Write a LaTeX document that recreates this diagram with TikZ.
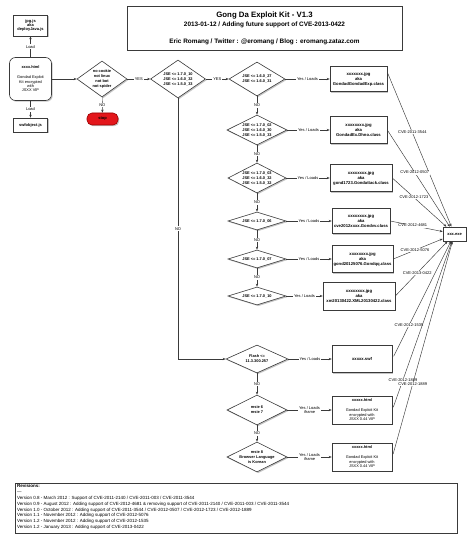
\documentclass[tikz,border=0pt]{standalone}
\usepackage{fontspec}
\setmainfont{Liberation Sans}
\usetikzlibrary{shapes.geometric,arrows.meta,shadows}
\definecolor{edge}{HTML}{3A3A3A}
\definecolor{stopred}{HTML}{E3161B}
\newcommand\fsz[2]{\fontsize{#1}{#2}\selectfont}
\tikzset{
  shd/.style={drop shadow={shadow xshift=1.2pt,shadow yshift=-1.2pt,opacity=0.45}},
  box/.style={rectangle,draw=edge,line width=0.6pt,fill=white,inner sep=1pt,align=center,font=\bfseries\fsz{4.2}{5},shd},
  dia/.style={diamond,draw=edge,line width=0.6pt,fill=white,inner sep=0pt,shd},
  dtext/.style={align=center,font=\bfseries\fsz{3.9}{5},inner sep=0pt},
  arr/.style={draw=edge,line width=0.45pt,-{Stealth[length=3pt,width=2.4pt]}},
  lbl/.style={fill=white,inner sep=0.8pt,font=\fsz{4}{4.8}},
  cve/.style={fill=white,inner sep=0.6pt,font=\fsz{4}{4.8}},
}
\begin{document}
\begin{tikzpicture}[x=1pt,y=-1pt]
\fill[white] (0,0) rectangle (474,545);
\useasboundingbox (0,0) rectangle (474,545);

% title
\node[rectangle,draw=edge,line width=0.7pt,fill=white,shd,minimum width=275pt,minimum height=44pt] (title) at (264.5,28) {};
\node[font=\bfseries\fsz{7.8}{9}] (t1) at (264.5,16) {Gong Da Exploit Kit - V1.3};
\node[font=\bfseries\fsz{6.4}{7.5}] (t2) at (264.5,24.5) {2013-01-12 / Adding future support of CVE-2013-0422};
\node[font=\bfseries\fsz{6.4}{7.5}] (t3) at (264.5,42) {Eric Romang / Twitter : @eromang / Blog : eromang.zataz.com};

% left column
\node[box,font=\bfseries\fsz{4}{4.3},minimum width=34pt,minimum height=21pt] (js) at (30.5,25.5) {jpg.js\\aka\\deployJava.js};
\node[box,rounded corners=6pt,minimum width=42pt,minimum height=43pt,font=\fsz{3.9}{4.4}] (html) at (30.5,79) {\textbf{xxxx.html}\\[1.2pt]\\Gondad Exploit\\Kit encrypted\\with\\JSXX VIP};
\node[box,font=\bfseries\fsz{4}{4.3},minimum width=34pt,minimum height=14pt] (swf) at (30.5,125) {swfobject.js};
\draw[arr] (html) -- node[lbl]{Load} (js);
\draw[arr] (html) -- node[lbl]{Load} (swf);

% first checks
\node[dia,minimum width=50pt,minimum height=36pt,label={[dtext]center:no cookie\\not linux\\not bot\\not spider}] (d1) at (102,79) {};
\node[rectangle,rounded corners=5pt,draw=red!60!black,line width=0.6pt,fill=stopred,shd,minimum width=31pt,minimum height=12pt,inner sep=0pt,font=\bfseries\fsz{4}{4.8}] (stop) at (102.5,119) {stop};
\draw[arr] (html) -- (d1);
\draw[arr] (d1) -- node[lbl]{NO} (stop);

\node[dia,minimum width=55pt,minimum height=38pt,label={[dtext]center:JSE <= 1.7.0\_10\\JSE <= 1.6.0\_32\\JSE <= 1.5.0\_33}] (d2) at (178,79) {};
\draw[arr] (d1) -- node[lbl]{YES} (d2);

% java column
\node[dia,minimum width=56pt,minimum height=34pt,label={[dtext]center:JSE <= 1.6.0\_27\\JSE <= 1.6.0\_31}] (d3) at (257,79) {};
\node[dia,minimum width=60pt,minimum height=30pt,label={[dtext]center:JSE <= 1.7.0\_02\\JSE <= 1.6.0\_30\\JSE <= 1.5.0\_33}] (d4) at (257,130) {};
\node[dia,minimum width=58pt,minimum height=30pt,label={[dtext]center:JSE <= 1.7.0\_03\\JSE <= 1.6.0\_32\\JSE <= 1.5.0\_32}] (d5) at (257,178) {};
\node[dia,minimum width=58pt,minimum height=18pt,label={[dtext]center:JSE <= 1.7.0\_06}] (d6) at (257,221) {};
\node[dia,minimum width=58pt,minimum height=18pt,label={[dtext]center:JSE <= 1.7.0\_07}] (d7) at (257,259) {};
\node[dia,minimum width=58pt,minimum height=18pt,label={[dtext]center:JSE <= 1.7.0\_10}] (d8) at (257,296) {};
\node[dia,minimum width=62pt,minimum height=28pt,label={[dtext]center:Flash <=\\11.3.300.257}] (d9) at (257,359) {};
\node[dia,minimum width=60pt,minimum height=30pt,label={[dtext]center:msie 6\\msie 7}] (d10) at (257,410) {};
\node[dia,minimum width=60pt,minimum height=30pt,label={[dtext]center:msie 8\\Browser Language\\is Korean}] (d11) at (257,457) {};

\draw[arr] (d2) -- node[lbl]{YES} (d3);
\draw[arr] (d3) -- node[lbl]{NO} (d4);
\draw[arr] (d4) -- node[lbl]{NO} (d5);
\draw[arr] (d5) -- node[lbl]{NO} (d6);
\draw[arr] (d6) -- node[lbl]{NO} (d7);
\draw[arr] (d7) -- node[lbl]{NO} (d8);
\draw[arr] (d9) -- node[lbl]{NO} (d10);
\draw[arr] (d10) -- node[lbl]{NO} (d11);
\draw[arr] (d2.south) |- node[lbl,pos=0.25]{NO} (d9.west);

% payload boxes
\node[box,minimum width=57pt,minimum height=25pt] (b1) at (358.5,79) {xxxxxxx.jpg\\aka\\GondadGondadExp.class};
\node[box,minimum width=57pt,minimum height=27pt] (b2) at (358.5,130) {xxxxxxxx.jpg\\aka\\GondadEx.Dhno.class};
\node[box,minimum width=62pt,minimum height=27pt] (b3) at (361,178) {xxxxxxxx.jpg\\aka\\gond1723.Gondattack.class};
\node[box,minimum width=58pt,minimum height=25pt] (b4) at (361,221) {xxxxxxxx.jpg\\aka\\cve2012xxxx.Gondvv.class};
\node[box,minimum width=61pt,minimum height=27pt] (b5) at (362.5,259) {xxxxxxxx.jpg\\aka\\gond20125076.Gondqq.class};
\node[box,minimum width=72pt,minimum height=28pt] (b6) at (359,296) {xxxxxxxx.jpg\\aka\\xm20130422.XML20130422.class};
\node[box,minimum width=60pt,minimum height=27pt] (b7) at (362,359) {xxxxx.swf};
\node[box,minimum width=60pt,minimum height=28pt,font=\fsz{3.9}{4.5}] (b8) at (362,410) {\textbf{xxxxx.html}\\[1pt]\\Gondad Exploit Kit\\encrypted with\\JSXX 0.44 VIP};
\node[box,minimum width=60pt,minimum height=28pt,font=\fsz{3.9}{4.5}] (b9) at (362,457) {\textbf{xxxxx.html}\\[1pt]\\Gondad Exploit Kit\\encrypted with\\JSXX 0.44 VIP};

\draw[arr] (d3) -- node[lbl]{Yes / Loads} (b1);
\draw[arr] (d4) -- node[lbl]{Yes / Loads} (b2);
\draw[arr] (d5) -- node[lbl]{Yes / Loads} (b3);
\draw[arr] (d6) -- node[lbl]{Yes / Loads} (b4);
\draw[arr] (d7) -- node[lbl]{Yes / Loads} (b5);
\draw[arr] (d8) -- node[lbl]{Yes / Loads} (b6);
\draw[arr] (d9) -- node[lbl]{Yes / Loads} (b7);
\draw[arr] (d10) -- node[lbl,align=center]{Yes / Loads\\iframe} (b8);
\draw[arr] (d11) -- node[lbl,align=center]{Yes / Loads\\iframe} (b9);

% exe
\node[box,minimum width=23pt,minimum height=14pt,font=\bfseries\fsz{4}{4.8}] (exe) at (454.5,234) {xxx.exe};
\draw[arr] ([yshift=-6pt]b1.north east) -- node[cve,pos=0.39]{CVE-2011-3544} (exe);
\draw[arr] (b2.east) -- node[cve,pos=0.44]{CVE-2012-0507} (exe);
\draw[arr] (b3.east) -- node[cve,pos=0.40]{CVE-2012-1723} (exe);
\draw[arr] (b4.east) -- node[cve,pos=0.43]{CVE-2012-4681} (exe);
\draw[arr] (b5.east) -- node[cve,pos=0.44]{CVE-2012-5076} (exe);
\draw[arr] (b6.east) -- node[cve,pos=0.42]{CVE-2013-0422} (exe);
\draw[arr,shorten <=3pt] (b7.east) -- node[cve,pos=0.285]{CVE-2012-1535} (exe);
\draw[arr,shorten <=3pt] (b8.east) -- node[cve,pos=0.18]{CVE-2012-1889} (exe);
\draw[arr,shorten <=3pt] (b9.east) -- node[cve,pos=0.34]{CVE-2012-1889} (exe);

% revisions
\node[rectangle,draw=edge,line width=0.6pt,fill=white,shd,minimum width=442pt,minimum height=50pt] (rev) at (236,508) {};
\node[anchor=north west,align=left,inner sep=0pt,font=\fsz{4.5}{5.9}] (revtext) at (17,484) {\textbf{Revisions:}\\---\\
Version 0.8 - March 2012 : Support of CVE-2011-2140 / CVE-2011-003 / CVE-2011-3544\\
Version 0.9 - August 2012 : Adding support of CVE-2012-4681 \& removing support of CVE-2011-2140 /  CVE-2011-003 / CVE-2011-3544\\
Version 1.0 - October 2012 : Adding support of CVE-2011-3544 / CVE-2012-0507 / CVE-2012-1723 / CVE-2012-1889\\
Version 1.1 - November 2012 : Adding support of CVE-2012-5076\\
Version 1.2 - November 2012 : Adding support of CVE-2012-1535\\
Version 1.2 - January 2013 : Adding support of CVE-2013-0422};
\end{tikzpicture}
\end{document}
